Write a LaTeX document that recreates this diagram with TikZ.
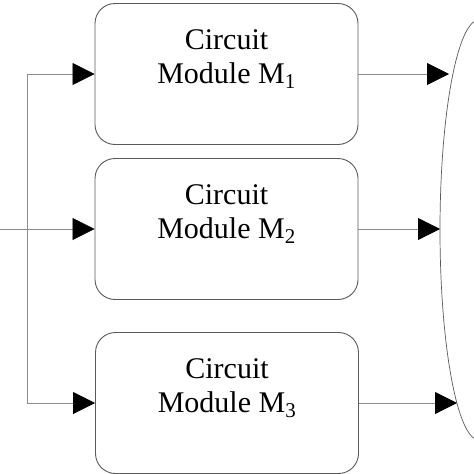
\documentclass[tikz,border=0pt]{standalone}
\usepackage{fontspec}
\setmainfont{Liberation Serif}
\usepackage{tikz}
\usetikzlibrary{arrows.meta}
\definecolor{wiregray}{HTML}{8C8C8C}
\definecolor{edgegray}{HTML}{5A5A5A}
\tikzstyle{module}=[draw=edgegray,line width=0.9pt,rounded corners=20pt,minimum width=263pt,minimum height=141pt,inner sep=0pt]
\tikzstyle{modtext}=[align=center,font=\fontsize{30}{34}\selectfont,inner sep=0pt]
\tikzstyle{wire}=[draw=wiregray,line width=0.8pt]
\tikzstyle{line}=[wire,-{Triangle[length=22pt,width=22pt,black]}]

\begin{document}
\begin{tikzpicture}[x=1pt,y=-1pt]
  \useasboundingbox (0,0) rectangle (474,474);
  \clip (0,0) rectangle (474,474);
  % modules
  \node[module] (M1) at (226.5,74)  {};
  \node[module] (M2) at (226.5,229) {};
  \node[module] (M3) at (227,403)   {};
  \node[modtext] (M1text) at (226.5,59)  {Circuit\\Module M\textsubscript{1}};
  \node[modtext] (M2text) at (226.5,214) {Circuit\\Module M\textsubscript{2}};
  \node[modtext] (M3text) at (227,388)   {Circuit\\Module M\textsubscript{3}};
  % input
  \coordinate (in) at (0,229);
  \coordinate (split) at (27,229);
  \draw[wire] (in) -- (split);
  \draw[wire] (27,74) -- (27,403);
  \draw[line] (split) -- (M2.west);
  \draw[line] (split) |- (M1.west);
  \draw[line] (split) |- (M3.west);
  % output
  \draw[overlay,draw=edgegray,line width=0.7pt] (479,230) ellipse [x radius=39pt,y radius=210pt];
  \coordinate (out1) at (449,74);
  \coordinate (out2) at (440,229);
  \coordinate (out3) at (457,403);
  \draw[line] (M1.east) -- (out1);
  \draw[line] (M2.east) -- (out2);
  \draw[line] (M3.east) -- (out3);
\end{tikzpicture}
\end{document}
